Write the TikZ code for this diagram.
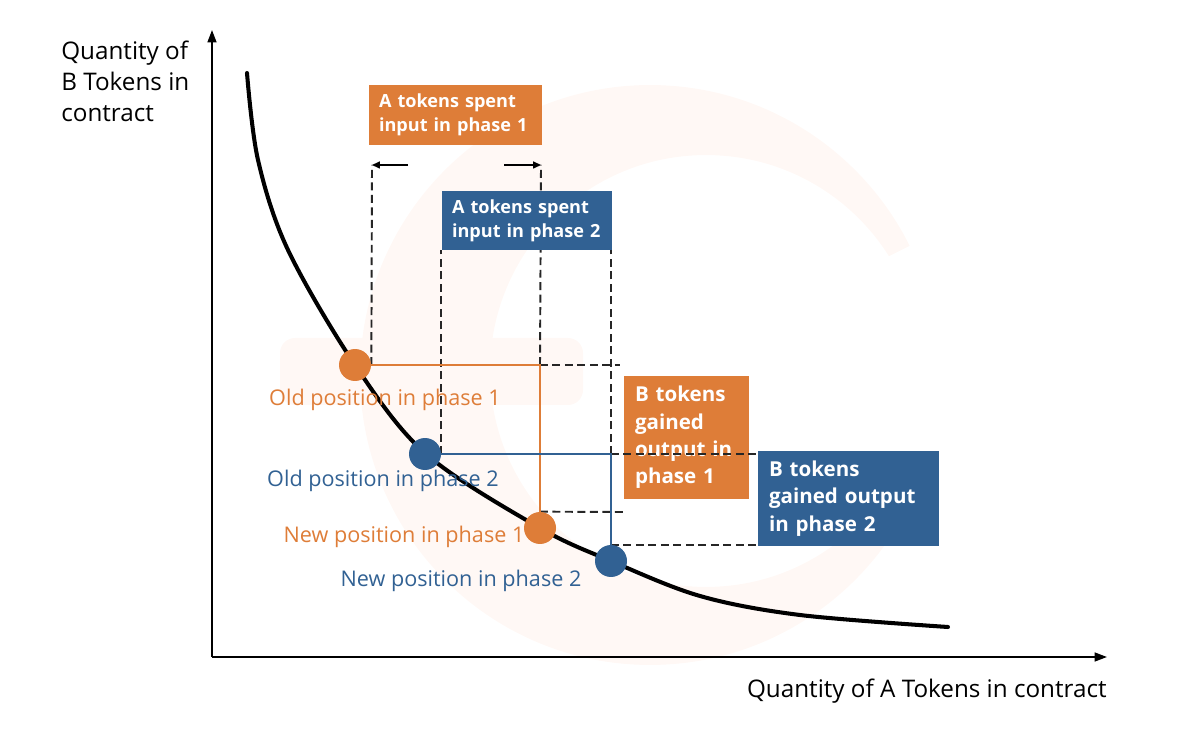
\documentclass[tikz,border=0pt]{standalone}
\usepackage{fontspec}
\setmainfont{Open Sans}
\usetikzlibrary{arrows.meta,positioning,backgrounds}
\definecolor{phaseorange}{RGB}{222,125,56}
\definecolor{phaseblue}{RGB}{49,97,147}
\definecolor{markpale}{RGB}{255,248,245}
\tikzset{
  % 坐标轴
  axis/.style={-{Triangle[length=7pt,width=5pt]}, line width=1.1pt},
  % 曲线
  curve/.style={line width=2.3pt, line cap=round},
  % 圆点
  dot/.style={circle, inner sep=0pt, minimum size=0.64cm},
  odot/.style={dot, fill=phaseorange},
  bdot/.style={dot, fill=phaseblue},
  % 说明框
  tag/.style={inner xsep=0.2cm, inner ysep=0pt, align=left, text=white,
    font=\bfseries\fontsize{10.3pt}{13.6pt}\selectfont},
  bigtag/.style={tag, inner xsep=0.22cm, font=\bfseries\fontsize{11.7pt}{15.6pt}\selectfont},
  % 位置标签
  poslab/.style={anchor=base, inner sep=0pt, font=\fontsize{12.3pt}{14pt}\selectfont},
  axlab/.style={inner sep=0pt, align=left, font=\fontsize{13.8pt}{17.6pt}\selectfont},
  % 连线
  oline/.style={phaseorange, line width=1.5pt},
  bline/.style={phaseblue, line width=1.5pt},
  guide/.style={line width=1.1pt, dash pattern=on 4.5pt off 2.6pt, black!85},
  span/.style={-{Triangle[length=4.5pt,width=4pt]}, line width=0.7pt},
}

\begin{document}
\begin{tikzpicture}[x=0.02cm, y=-0.02cm]
    \useasboundingbox (0,0) rectangle (1200,739);

    % 坐标轴
    \coordinate (origin) at (212,657);
    \coordinate (ytop) at (212,30);
    \coordinate (xend) at (1107,657);
    \draw[axis] (origin) -- (ytop);
    \draw[axis] (origin) -- (xend);
    \node[axlab, anchor=north west] (ylab) at (61,41) {Quantity of\\B Tokens in\\contract};
    \node[axlab, anchor=base east] (xlab) at (1107,697) {Quantity of A Tokens in contract};

    % 曲线
    \draw[curve] plot[smooth, tension=0.55] coordinates {(247,73) (258,160) (288,250) (355,365) (426,454) (540,528) (611,561) (700,596) (800,615) (948,627)};

    % 圆点
    \node[odot] (o1) at (355,365) {};
    \node[bdot] (b1) at (425,454) {};
    \node[odot] (o2) at (540,528) {};
    \node[bdot] (b2) at (611,561) {};

    % 说明框
    \node[tag, fill=phaseorange, text width=3.06cm, minimum height=1.2cm] (spentA) at (455.5,115) {A tokens spent\\input in phase 1};
    \node[tag, fill=phaseblue, text width=3.0cm, minimum height=1.18cm] (spentB) at (527,220.5) {A tokens spent\\input in phase 2};
    \node[bigtag, fill=phaseorange, text width=2.06cm, minimum height=2.46cm] (gainA) at (686.5,437.5) {B tokens\\gained\\output in\\phase 1};
    \node[bigtag, fill=phaseblue, text width=3.18cm, minimum height=1.9cm] (gainB) at (848.5,498.5) {B tokens\\gained output\\in phase 2};

    % 位置标签
    \node[poslab, text=phaseorange] (oldA) at (385,406) {Old position in phase 1};
    \node[poslab, text=phaseblue] (oldB) at (383,487) {Old position in phase 2};
    \node[poslab, text=phaseorange] (newA) at (404,542) {New position in phase 1};
    \node[poslab, text=phaseblue] (newB) at (461,586) {New position in phase 2};

    % 虚线
    \coordinate (tipL) at (372,165);
    \coordinate (tailL) at (408,165);
    \coordinate (tipR) at (541,165);
    \coordinate (tailR) at (504,165);
    \coordinate (endO1) at (620,365);
    \coordinate (endO2) at (623,512);
    \begin{scope}[on background layer]
        % 水印
        \begin{scope}
            \clip (650,375) -- (1000,201) -- (1000,0) -- (0,0) -- (0,739) -- (1000,739) -- (1000,620) -- cycle;
            \fill[markpale, even odd rule] (650,375) circle[radius=5.8cm] (706,371) circle[radius=4.32cm];
        \end{scope}
        \fill[markpale, rounded corners=0.3cm] (280,338) rectangle (583,405);
        \draw[guide] (o1.east) -- (tipL);
        \draw[guide] (o2.north |- o1.east) -- (tipR);
        \draw[guide] (b1.east) -- (b1.east |- spentB.south);
        \draw[guide] (b2.north |- b1.east) -- (b2.north |- spentB.south);
        \draw[guide] (o2.north |- o1.east) -- (endO1);
        \draw[guide] (o2.north) -- (endO2);
        \draw[guide] (b2.north) -- (b2.north -| gainB.west);
    \end{scope}
    \draw[guide] (b2.north |- b1.east) -- (gainB.west |- b1.east);

    \draw[span] (tailL) -- (tipL);
    \draw[span] (tailR) -- (tipR);

    % 实线
    \draw[oline] (o1.east) -| (o2.north);
    \draw[bline] (b1.east) -| (b2.north);
\end{tikzpicture}
\end{document}
